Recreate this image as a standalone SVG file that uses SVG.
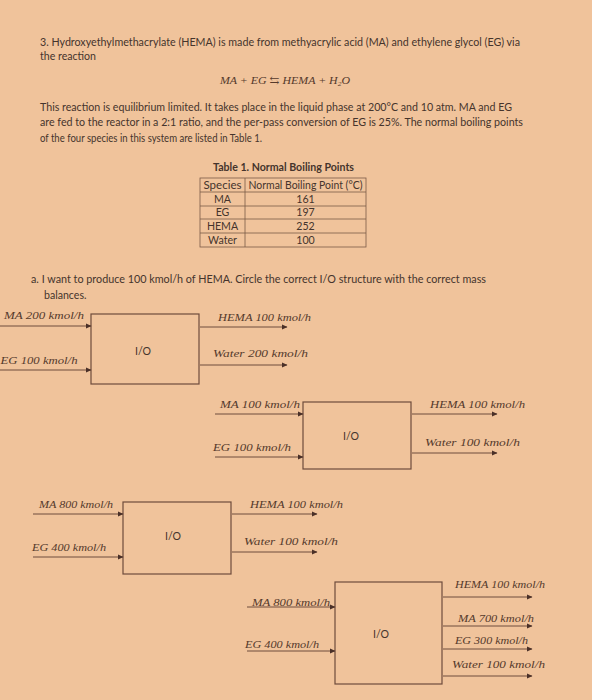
<svg xmlns="http://www.w3.org/2000/svg" width="592" height="700" viewBox="0 0 592 700">
<style>
.bg{fill:#f0c39b}
.t{font-family:Lato,"Open Sans","Liberation Sans",sans-serif;font-size:10.6px;fill:#45342c}
.tb{font-family:Lato,"Open Sans","Liberation Sans",sans-serif;font-size:10.6px;font-weight:bold;fill:#45342c}
.m{font-family:"Liberation Serif","DejaVu Serif",serif;font-style:italic;font-size:11px;fill:#553a2c}
.box{fill:none;stroke:#6e4c3c;stroke-width:1.2}
.ln{stroke:#6e4c3c;stroke-width:1;fill:none}
.tl{stroke:#7a5a48;stroke-width:0.8;fill:none}
.io{font-family:Lato,"Open Sans","Liberation Sans",sans-serif;font-size:10.6px;fill:#45342c;text-anchor:middle}
</style>
<defs>
<marker id="ah" markerWidth="6" markerHeight="6" refX="5" refY="3" orient="auto" markerUnits="userSpaceOnUse">
<path d="M0,0.5 L5.5,3 L0,5.5 z" fill="#4a3028"/>
</marker>
</defs>
<rect class="bg" x="0" y="0" width="592" height="700"/>

<g id="header">
<text class="t" x="40" y="46" textLength="480" lengthAdjust="spacingAndGlyphs">3. Hydroxyethylmethacrylate (HEMA) is made from methyacrylic acid (MA) and ethylene glycol (EG) via</text>
<text class="t" x="40" y="60">the reaction</text>
<text class="m" x="220" y="84" textLength="130" lengthAdjust="spacingAndGlyphs">MA + EG ⇆ HEMA + H<tspan font-size="7" dy="2">2</tspan><tspan dy="-2">O</tspan></text>
<text class="t" x="40" y="111" textLength="472" lengthAdjust="spacingAndGlyphs">This reaction is equilibrium limited.  It takes place in the liquid phase at 200°C and 10 atm.  MA and EG</text>
<text class="t" x="40" y="126" textLength="483" lengthAdjust="spacingAndGlyphs">are fed to the reactor in a 2:1 ratio, and the per-pass conversion of EG is 25%.  The normal boiling points</text>
<text class="t" x="40" y="142" textLength="222" lengthAdjust="spacingAndGlyphs">of the four species in this system are listed in Table 1.</text>
</g>

<g id="table">
<text class="tb" x="213" y="171" textLength="141" lengthAdjust="spacingAndGlyphs">Table 1. Normal Boiling Points</text>
<rect class="tl" x="200" y="178" width="166" height="69"/>
<line class="tl" x1="245" y1="178" x2="245" y2="247"/>
<line class="tl" x1="200" y1="192" x2="366" y2="192"/>
<line class="tl" x1="200" y1="206" x2="366" y2="206"/>
<line class="tl" x1="200" y1="219" x2="366" y2="219"/>
<line class="tl" x1="200" y1="233" x2="366" y2="233"/>
<g class="io">
<text x="222.5" y="188.5" textLength="38" lengthAdjust="spacingAndGlyphs">Species</text>
<text x="305.5" y="188.5" textLength="114" lengthAdjust="spacingAndGlyphs">Normal Boiling Point (°C)</text>
<text x="222.5" y="202.5">MA</text><text x="305.5" y="202.5">161</text>
<text x="222.5" y="216">EG</text><text x="305.5" y="216">197</text>
<text x="222.5" y="229.5">HEMA</text><text x="305.5" y="229.5">252</text>
<text x="222.5" y="243.5">Water</text><text x="305.5" y="243.5">100</text>
</g>
</g>

<g id="question">
<text class="t" x="31" y="283" textLength="455" lengthAdjust="spacingAndGlyphs">a.  I want to produce 100 kmol/h of HEMA.  Circle the correct I/O structure with the correct mass</text>
<text class="t" x="44" y="299">balances.</text>
</g>

<g id="io1">
<rect class="box" x="91" y="314" width="108" height="70"/>
<text class="io" x="143" y="355">I/O</text>
</g>
<g id="io2">
<rect class="box" x="303" y="402" width="108" height="67"/>
<text class="io" x="351" y="440">I/O</text>
</g>
<g id="io3">
<rect class="box" x="123" y="502" width="108" height="72"/>
<text class="io" x="173" y="540">I/O</text>
</g>
<g id="io4">
<rect class="box" x="335" y="582" width="107" height="102"/>
<text class="io" x="381" y="638">I/O</text>
</g>

<g id="connectors">
<line class="ln" x1="0" y1="326" x2="91" y2="326" marker-end="url(#ah)"/>
<line class="ln" x1="0" y1="370" x2="91" y2="370" marker-end="url(#ah)"/>
<line class="ln" x1="200" y1="327" x2="287" y2="327" marker-end="url(#ah)"/>
<line class="ln" x1="200" y1="365" x2="287" y2="365" marker-end="url(#ah)"/>

<line class="ln" x1="215" y1="414" x2="303" y2="414" marker-end="url(#ah)"/>
<line class="ln" x1="215" y1="457" x2="303" y2="457" marker-end="url(#ah)"/>
<line class="ln" x1="412" y1="414" x2="497" y2="414" marker-end="url(#ah)"/>
<line class="ln" x1="412" y1="453" x2="497" y2="453" marker-end="url(#ah)"/>

<line class="ln" x1="33" y1="514" x2="123" y2="514" marker-end="url(#ah)"/>
<line class="ln" x1="33" y1="557" x2="123" y2="557" marker-end="url(#ah)"/>
<line class="ln" x1="232" y1="514" x2="317" y2="514" marker-end="url(#ah)"/>
<line class="ln" x1="232" y1="552" x2="317" y2="552" marker-end="url(#ah)"/>

<line class="ln" x1="247" y1="607" x2="335" y2="607" marker-end="url(#ah)"/>
<line class="ln" x1="247" y1="651" x2="335" y2="651" marker-end="url(#ah)"/>
<line class="ln" x1="443" y1="597" x2="532" y2="597" marker-end="url(#ah)"/>
<line class="ln" x1="443" y1="626" x2="532" y2="626" marker-end="url(#ah)"/>
<line class="ln" x1="443" y1="649" x2="532" y2="649" marker-end="url(#ah)"/>
<line class="ln" x1="443" y1="676" x2="532" y2="676" marker-end="url(#ah)"/>

<text class="m" x="4" y="319" textLength="80" lengthAdjust="spacingAndGlyphs">MA 200 kmol/h</text>
<text class="m" x="0.5" y="364" textLength="77" lengthAdjust="spacingAndGlyphs">EG 100 kmol/h</text>
<text class="m" x="218" y="321" textLength="93" lengthAdjust="spacingAndGlyphs">HEMA 100 kmol/h</text>
<text class="m" x="213" y="357" textLength="95" lengthAdjust="spacingAndGlyphs">Water 200 kmol/h</text>

<text class="m" x="220" y="408" textLength="80" lengthAdjust="spacingAndGlyphs">MA 100 kmol/h</text>
<text class="m" x="213" y="451" textLength="78" lengthAdjust="spacingAndGlyphs">EG 100 kmol/h</text>
<text class="m" x="430" y="408" textLength="95" lengthAdjust="spacingAndGlyphs">HEMA 100 kmol/h</text>
<text class="m" x="425" y="446" textLength="95" lengthAdjust="spacingAndGlyphs">Water 100 kmol/h</text>

<text class="m" x="39" y="508" textLength="74" lengthAdjust="spacingAndGlyphs">MA 800 kmol/h</text>
<text class="m" x="32" y="551" textLength="74" lengthAdjust="spacingAndGlyphs">EG 400 kmol/h</text>
<text class="m" x="250" y="508" textLength="93" lengthAdjust="spacingAndGlyphs">HEMA 100 kmol/h</text>
<text class="m" x="244" y="545" textLength="94" lengthAdjust="spacingAndGlyphs">Water 100 kmol/h</text>

<text class="m" x="252" y="606" textLength="78" lengthAdjust="spacingAndGlyphs">MA 800 kmol/h</text>
<text class="m" x="245" y="648" textLength="74" lengthAdjust="spacingAndGlyphs">EG 400 kmol/h</text>
<text class="m" x="455" y="588" textLength="90" lengthAdjust="spacingAndGlyphs">HEMA 100 kmol/h</text>
<text class="m" x="458" y="622" textLength="76" lengthAdjust="spacingAndGlyphs">MA 700 kmol/h</text>
<text class="m" x="455" y="644" textLength="73" lengthAdjust="spacingAndGlyphs">EG 300 kmol/h</text>
<text class="m" x="452" y="668" textLength="93" lengthAdjust="spacingAndGlyphs">Water 100 kmol/h</text>
</g>
</svg>
